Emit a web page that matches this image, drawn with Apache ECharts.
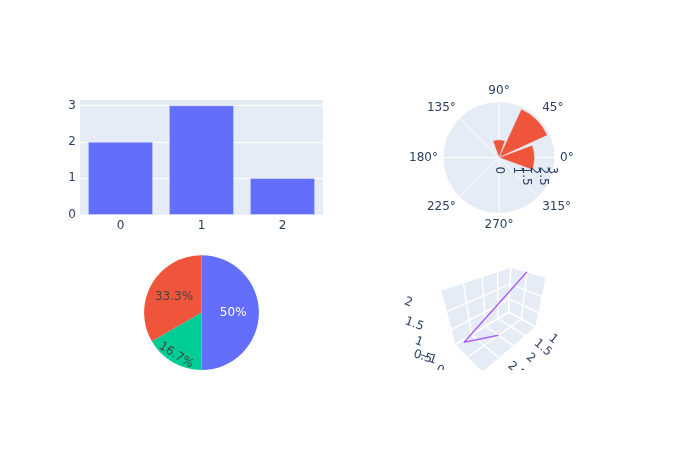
<!DOCTYPE html>
<html><head><meta charset="utf-8">
<script src="https://cdn.jsdelivr.net/npm/echarts@6/dist/echarts.min.js"></script>
<style>html,body{margin:0;padding:0;background:#fff}#c{width:700px;height:450px}</style>
</head><body><div id="c"></div>
<script>
// ---- Bar subplot ----
const barCategories = ['0', '1', '2'];
const barValues = [2, 3, 1];
const barYMax = 3.15;
// ---- Polar bar subplot ----
const polarTheta = [0, 45, 90];
const polarR = [2, 3, 1];
const angularTicks = [0, 45, 90, 135, 180, 225, 270, 315];
const radialMax = 3.15;
const radialStep = 0.5;
// ---- Pie subplot ----
const pieLabels = ['0', '1', '2'];
const pieValues = [2, 3, 1];
const pieDrawOrder = [1, 2, 0];          // clockwise from 12 o'clock, as in the picture
// ---- 3D scatter subplot ----
const sceneX = [2, 3, 1];
const sceneY = [0, 0, 0];
const sceneZ = [0.5, 1, 2];
const sceneXRange = [1, 3];
const sceneYRange = [-1, 1];
const sceneZRange = [0.5, 2];
const sceneXTicks = [1, 1.5, 2, 2.5, 3];
const sceneYTicks = [-1, 0, 1];
const sceneZTicks = [0.5, 1, 1.5, 2];

const TXT = '#2a3f5f';
const BG = '#E5ECF6';
const FONT = '"DejaVu Sans", Verdana, sans-serif';

// ---- simple perspective camera (eye 1.25,1.25,1.25, fovy 45deg) ----
const SCENE = { left: 377, top: 255.25, width: 243, height: 114.75 };
const EYE = [1.25, 1.25, 1.25];
const HALF = [0.66, 0.35, 0.49];
const F = 1 / Math.tan(Math.PI / 8);
const ASPECT = SCENE.width / SCENE.height;
const s2 = Math.SQRT2, s3 = Math.sqrt(3), s6 = Math.sqrt(6);
const RV = [-1 / s2, 1 / s2, 0], UV = [-1 / s6, -1 / s6, 2 / s6], DV = [-1 / s3, -1 / s3, -1 / s3];
function nrm(v, r, h) { return (v - (r[0] + r[1]) / 2) / ((r[1] - r[0]) / 2) * h; }
function dot(a, b) { return a[0] * b[0] + a[1] * b[1] + a[2] * b[2]; }
function project(x, y, z) {
  const n = [nrm(x, sceneXRange, HALF[0]), nrm(y, sceneYRange, HALF[1]), nrm(z, sceneZRange, HALF[2])];
  const v = [n[0] - EYE[0], n[1] - EYE[1], n[2] - EYE[2]];
  const zc = dot(v, DV);
  return [F / ASPECT * dot(v, RV) / zc, F * dot(v, UV) / zc];
}
function fmtNum(t) { return t < 0 ? '\u2212' + String(-t) : String(t); }

const XR = sceneXRange, YR = sceneYRange, ZR = sceneZRange;
function renderScene(params, api) {
  const P = (x, y, z) => api.coord(project(x, y, z));
  const children = [];
  const wall = pts => ({ type: 'polygon', shape: { points: pts }, style: { fill: BG, stroke: '#fff', lineWidth: 1 } });
  children.push(wall([P(XR[0], YR[0], ZR[0]), P(XR[0], YR[1], ZR[0]), P(XR[0], YR[1], ZR[1]), P(XR[0], YR[0], ZR[1])]));
  children.push(wall([P(XR[0], YR[0], ZR[0]), P(XR[1], YR[0], ZR[0]), P(XR[1], YR[0], ZR[1]), P(XR[0], YR[0], ZR[1])]));
  children.push(wall([P(XR[0], YR[0], ZR[0]), P(XR[1], YR[0], ZR[0]), P(XR[1], YR[1], ZR[0]), P(XR[0], YR[1], ZR[0])]));
  const seg = (a, b) => ({ type: 'line', shape: { x1: a[0], y1: a[1], x2: b[0], y2: b[1] }, style: { stroke: '#fff', lineWidth: 1.5 } });
  sceneXTicks.forEach(t => {
    children.push(seg(P(t, YR[0], ZR[0]), P(t, YR[0], ZR[1])));
    children.push(seg(P(t, YR[0], ZR[0]), P(t, YR[1], ZR[0])));
  });
  sceneYTicks.forEach(t => {
    children.push(seg(P(XR[0], t, ZR[0]), P(XR[0], t, ZR[1])));
    children.push(seg(P(XR[0], t, ZR[0]), P(XR[1], t, ZR[0])));
  });
  sceneZTicks.forEach(t => {
    children.push(seg(P(XR[0], YR[0], t), P(XR[0], YR[1], t)));
    children.push(seg(P(XR[0], YR[0], t), P(XR[1], YR[0], t)));
  });
  const lab = (p, dx, dy, rotDeg, txt) => ({
    type: 'text', x: p[0] + dx, y: p[1] + dy, rotation: rotDeg * Math.PI / 180,
    style: { text: txt, fill: TXT, font: '12px ' + FONT, align: 'center', verticalAlign: 'middle' }
  });
  sceneXTicks.forEach(t => children.push(lab(P(t, YR[1], ZR[0]), 17, 12, -40, fmtNum(t))));
  sceneYTicks.forEach(t => children.push(lab(P(XR[1], t, ZR[0]), -27, 13, -20, fmtNum(t))));
  sceneZTicks.forEach(t => children.push(lab(P(XR[1], YR[0], t), -32, 12, -20, fmtNum(t))));
  return { type: 'group', children };
}

// polar bar data on 45-degree category bands
const angleCats = angularTicks.map(String);
const polarBarData = angularTicks.map(t => { const i = polarTheta.indexOf(t); return i >= 0 ? polarR[i] : '-'; });
const angStep = angularTicks[1] - angularTicks[0];

// pie: colours by descending value, like plotly
const pieColors = ['#636efa', '#EF553B', '#00cc96'];
const pieTotal = pieValues.reduce((a, b) => a + b, 0);
const pctText = v => (Math.round(v / pieTotal * 1000) / 10) + '%';
const pieRank = pieValues.map((v, i) => i).sort((a, b) => pieValues[b] - pieValues[a]);
const pieData = pieDrawOrder.map(idx => {
  const k = pieRank.indexOf(idx);
  const item = { name: pieLabels[idx], value: pieValues[idx], itemStyle: { color: pieColors[k] },
    label: { color: k === 0 ? '#fff' : '#444' } };
  if (k === 2) {
    // smallest slice: text tilted and pushed outwards, as plotly fits it
    item.label.rotate = -32;
    item.label.lineHeight = 12;
    item.label.formatter = p => '\n\n\n' + pctText(p.value);
  }
  return item;
});

const chart = echarts.init(document.getElementById('c'), null, { renderer: 'canvas' });
chart.setOption({
  animation: false,
  textStyle: { fontFamily: FONT },
  grid: [
    { left: 80, top: 100, width: 243, height: 114.75, show: true, backgroundColor: BG, borderWidth: 0 },
    { left: SCENE.left, top: SCENE.top, width: SCENE.width, height: SCENE.height, show: false }
  ],
  xAxis: [
    { gridIndex: 0, type: 'category', data: barCategories, axisLine: { show: false }, axisTick: { show: false },
      axisLabel: { color: TXT, fontSize: 12, fontFamily: FONT, margin: 5 } },
    { gridIndex: 1, type: 'value', min: -1, max: 1, show: false }
  ],
  yAxis: [
    { gridIndex: 0, type: 'value', min: 0, max: barYMax, interval: 1, axisLine: { show: false }, axisTick: { show: false },
      axisLabel: { color: TXT, fontSize: 12, fontFamily: FONT, margin: 4, showMaxLabel: false },
      splitLine: { lineStyle: { color: '#fff', width: 1 }, showMaxLine: false } },
    { gridIndex: 1, type: 'value', min: -1, max: 1, show: false }
  ],
  polar: [
    { center: [499, 157.5], radius: 56 },
    { center: [499, 157.5], radius: 56 },
    { center: [499, 157.5], radius: 56 }
  ],
  angleAxis: [
    { polarIndex: 0, type: 'value', min: 0, max: 360, interval: angStep, startAngle: 0, clockwise: false,
      axisLine: { lineStyle: { color: '#fff', width: 1 } }, axisTick: { show: false },
      splitLine: { lineStyle: { color: '#fff', width: 1 } },
      axisLabel: { formatter: '{value}°', color: TXT, fontSize: 12, fontFamily: FONT, margin: 5 } },
    { polarIndex: 1, type: 'category', data: angleCats, startAngle: -angStep / 2, clockwise: false, show: false },
    { polarIndex: 2, type: 'value', min: 0, max: 360, startAngle: 0, clockwise: false, show: false }
  ],
  radiusAxis: [
    { polarIndex: 0, type: 'value', min: 0, max: radialMax, interval: radialStep,
      axisLine: { show: true, lineStyle: { color: '#fff' } }, axisTick: { show: false }, axisLabel: { show: false },
      splitLine: { show: true, lineStyle: { color: '#fff', width: 1 } },
      splitArea: { show: true, areaStyle: { color: [BG] } } },
    { polarIndex: 1, type: 'value', min: 0, max: radialMax, show: false },
    { polarIndex: 2, type: 'value', min: 0, max: radialMax, interval: radialStep, z: 10,
      axisLine: { show: false }, axisTick: { show: false }, splitLine: { show: false },
      axisLabel: { rotate: -90, margin: -9, align: 'left', verticalAlign: 'middle', showMaxLabel: false,
        showMinLabel: true, hideOverlap: false, color: TXT, fontSize: 12, fontFamily: FONT } }
  ],
  series: [
    { type: 'bar', xAxisIndex: 0, yAxisIndex: 0, data: barValues, barCategoryGap: '20%',
      itemStyle: { color: '#636efa', borderColor: BG, borderWidth: 0.5 }, silent: true },
    { type: 'bar', coordinateSystem: 'polar', polarIndex: 1, data: polarBarData, barCategoryGap: '10%',
      itemStyle: { color: '#EF553B', borderColor: BG, borderWidth: 0.5 }, silent: true },
    { type: 'pie', center: [201.5, 312.6], radius: 57.4, startAngle: 90, clockwise: true, data: pieData,
      label: { position: 'inside', fontSize: 12, fontFamily: FONT, formatter: p => pctText(p.value) },
      labelLine: { show: false }, silent: true },
    { type: 'custom', xAxisIndex: 1, yAxisIndex: 1, data: [[0, 0]], clip: true, z: 1, silent: true,
      renderItem: renderScene },
    { type: 'line', xAxisIndex: 1, yAxisIndex: 1, z: 5, clip: true, symbol: 'none', silent: true,
      data: sceneX.map((x, i) => project(x, sceneY[i], sceneZ[i])),
      lineStyle: { color: '#ab63fa', width: 1.5 } }
  ]
});
</script>
</body></html>
